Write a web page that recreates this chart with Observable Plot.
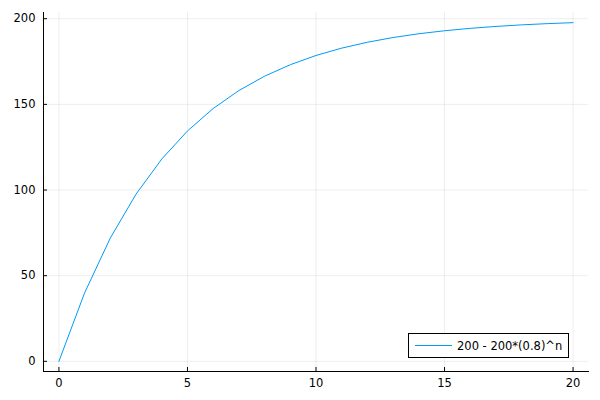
<!DOCTYPE html>
<html>
<head>
<meta charset="utf-8">
<script src="https://cdn.jsdelivr.net/npm/d3@7"></script>
<script src="https://cdn.jsdelivr.net/npm/@observablehq/plot@0.6"></script>
<style>
  html, body { margin: 0; padding: 0; background: #fff; }
  #wrap { position: relative; width: 600px; height: 400px; font-family: "DejaVu Sans", sans-serif; }
  #legend { position: absolute; left: 408px; top: 333px; width: 161px; height: 25px; box-sizing: border-box;
    border: 1px solid #000; background: #fff; display: flex; align-items: center; font-size: 11.5px; color: #000; }
  #legend .sw { width: 37px; height: 0; border-top: 1px solid #009afa; margin-left: 6px; margin-right: 5px; }
</style>
</head>
<body>
<div id="wrap"><div id="legend"><span class="sw"></span><span>200 - 200*(0.8)^n</span></div></div>
<script>
const n = [0,1,2,3,4,5,6,7,8,9,10,11,12,13,14,15,16,17,18,19,20];
const values = [0, 40, 72, 97.6, 118.08, 134.46, 147.57, 158.06, 166.44, 173.15, 178.53,
  182.82, 186.26, 189.01, 191.21, 192.96, 194.37, 195.50, 196.40, 197.12, 197.69];
const xTicks = [0, 5, 10, 15, 20];
const yTicks = [0, 50, 100, 150, 200];
const seriesName = "200 - 200*(0.8)^n";

const data = n.map((d, i) => ({n: d, v: values[i]}));

const chart = Plot.plot({
  width: 600,
  height: 400,
  marginLeft: 43,
  marginRight: 12,
  marginTop: 12,
  marginBottom: 29,
  style: {fontFamily: "DejaVu Sans, sans-serif", fontSize: "11.5px", color: "#000", background: "#fff"},
  x: {domain: [-0.6, 20.6]},
  y: {domain: [-5.93, 203.62]},
  marks: [
    Plot.gridX(xTicks, {stroke: "#000", strokeOpacity: 0.07, strokeWidth: 1}),
    Plot.gridY(yTicks, {stroke: "#000", strokeOpacity: 0.07, strokeWidth: 1}),
    Plot.axisX(xTicks, {tickSize: -4, tickPadding: 11, label: null, fill: "#000", stroke: "#000"}),
    Plot.axisY(yTicks, {tickSize: -4, tickPadding: 12, label: null, fill: "#000", stroke: "#000"}),
    Plot.frame({anchor: "left", stroke: "#000"}),
    Plot.frame({anchor: "bottom", stroke: "#000"}),
    Plot.line(data, {x: "n", y: "v", stroke: "#009afa", strokeWidth: 1})
  ]
});
document.getElementById("wrap").prepend(chart);
</script>
</body>
</html>
